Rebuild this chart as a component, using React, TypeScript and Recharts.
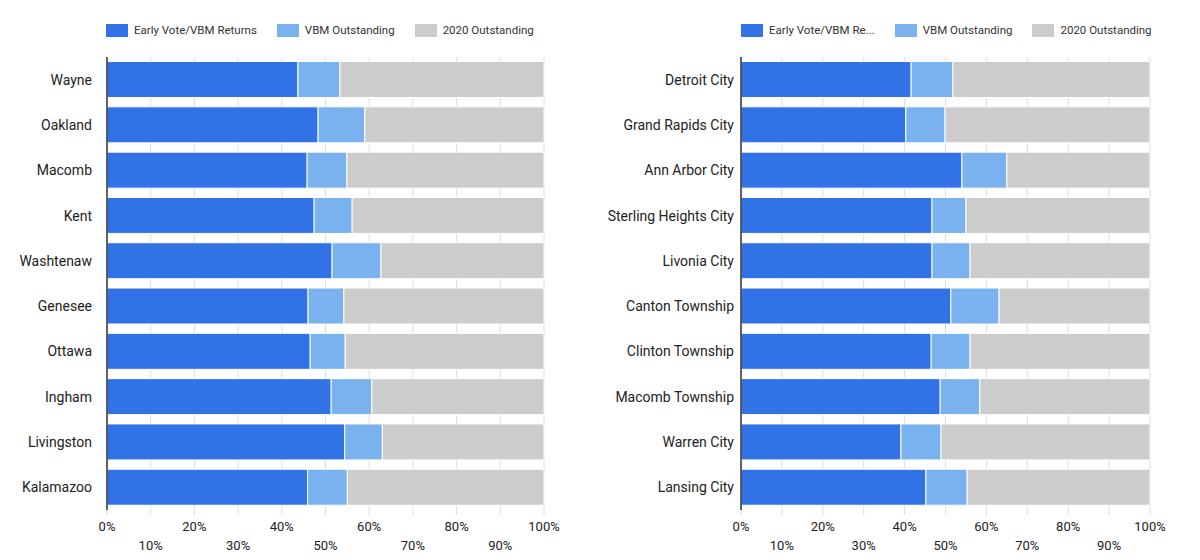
import { BarChart, Bar, XAxis, YAxis, CartesianGrid } from "recharts";

const countyNames = ["Wayne", "Oakland", "Macomb", "Kent", "Washtenaw", "Genesee", "Ottawa", "Ingham", "Livingston", "Kalamazoo"];
const countyReturns = [43.7, 48.3, 45.8, 47.4, 51.5, 46.0, 46.5, 51.3, 54.4, 45.9];
const countyVbm = [9.6, 10.7, 9.1, 8.7, 11.2, 8.2, 8.0, 9.3, 8.6, 9.1];
const county2020 = [46.7, 41.0, 45.1, 43.9, 37.3, 45.8, 45.5, 39.4, 37.0, 45.0];

const cityNames = ["Detroit City", "Grand Rapids City", "Ann Arbor City", "Sterling Heights City", "Livonia City", "Canton Township", "Clinton Township", "Macomb Township", "Warren City", "Lansing City"];
const cityReturns = [41.6, 40.3, 54.0, 46.7, 46.7, 51.3, 46.5, 48.7, 39.1, 45.2];
const cityVbm = [10.2, 9.6, 11.0, 8.3, 9.3, 11.8, 9.5, 9.7, 9.8, 10.1];
const city2020 = [48.2, 50.1, 35.0, 45.0, 44.0, 36.9, 44.0, 41.6, 51.1, 44.7];

const xTicks = [0, 10, 20, 30, 40, 50, 60, 70, 80, 90, 100];
const seriesNames = ["Early Vote/VBM Returns", "VBM Outstanding", "2020 Outstanding"];
const colors = ["#3172e6", "#7ab2ef", "#cccccc"];

const FONT = "Roboto, 'Noto Sans', sans-serif";

function StaggerTick(props: any) {
  const { x, y, payload, index } = props;
  const dy = index % 2 === 0 ? 14 : 33;
  return (
    <text x={x} y={y + dy} textAnchor="middle" fontSize={13} fill="#222" fontFamily={FONT}>
      {payload.value}%
    </text>
  );
}

function Legend({ left, labels }: { left: number; labels: string[] }) {
  return (
    <div style={{ position: "absolute", left, top: 23, display: "flex", fontFamily: FONT, fontSize: 11.5, color: "#333" }}>
      {labels.map((l, i) => (
        <div key={l} style={{ display: "flex", alignItems: "center", marginRight: 20 }}>
          <div style={{ width: 22, height: 13, background: colors[i], marginRight: 6 }} />
          <span style={{ whiteSpace: "nowrap" }}>{l}</span>
        </div>
      ))}
    </div>
  );
}

interface PanelProps {
  names: string[];
  returns: number[];
  vbm: number[];
  rest: number[];
  yWidth: number;
  rightMargin: number;
  labelGap: number;
}

function Panel({ names, returns, vbm, rest, yWidth, rightMargin, labelGap }: PanelProps) {
  const data = names.map((name, i) => ({ name, returns: returns[i], vbm: vbm[i], rest: rest[i] }));
  return (
    <BarChart
      width={600}
      height={560}
      data={data}
      layout="vertical"
      margin={{ top: 57, right: rightMargin, left: 0, bottom: 0 }}
      barCategoryGap="10%"
    >
      <CartesianGrid horizontal={false} stroke="#dddddd" />
      <XAxis
        type="number"
        domain={[0, 100]}
        ticks={xTicks}
        interval={0}
        height={50}
        axisLine={false}
        tickLine={{ stroke: "#dddddd" }}
        tickSize={5}
        tick={<StaggerTick />}
      />
      <YAxis
        type="category"
        dataKey="name"
        width={yWidth}
        axisLine={{ stroke: "#333", strokeWidth: 1.5 }}
        tickLine={false}
        tickSize={0}
        tickMargin={labelGap}
        tick={{ fontSize: 14, fill: "#222", fontFamily: FONT }}
      />
      <Bar dataKey="returns" stackId="a" fill={colors[0]} stroke="#fff" strokeWidth={1} isAnimationActive={false} />
      <Bar dataKey="vbm" stackId="a" fill={colors[1]} stroke="#fff" strokeWidth={1} isAnimationActive={false} />
      <Bar dataKey="rest" stackId="a" fill={colors[2]} stroke="#fff" strokeWidth={1} isAnimationActive={false} />
    </BarChart>
  );
}

export default function App() {
  return (
    <div style={{ position: "absolute", left: 0, top: 0, width: 1200, height: 560, background: "#fff" }}>
      <div style={{ position: "absolute", left: 0, top: 0 }}>
        <Panel names={countyNames} returns={countyReturns} vbm={countyVbm} rest={county2020} yWidth={107} rightMargin={56} labelGap={15} />
      </div>
      <div style={{ position: "absolute", left: 600, top: 0 }}>
        <Panel names={cityNames} returns={cityReturns} vbm={cityVbm} rest={city2020} yWidth={141} rightMargin={50} labelGap={7} />
      </div>
      <Legend left={106} labels={seriesNames} />
      <Legend left={741} labels={["Early Vote/VBM Re...", seriesNames[1], seriesNames[2]]} />
    </div>
  );
}
